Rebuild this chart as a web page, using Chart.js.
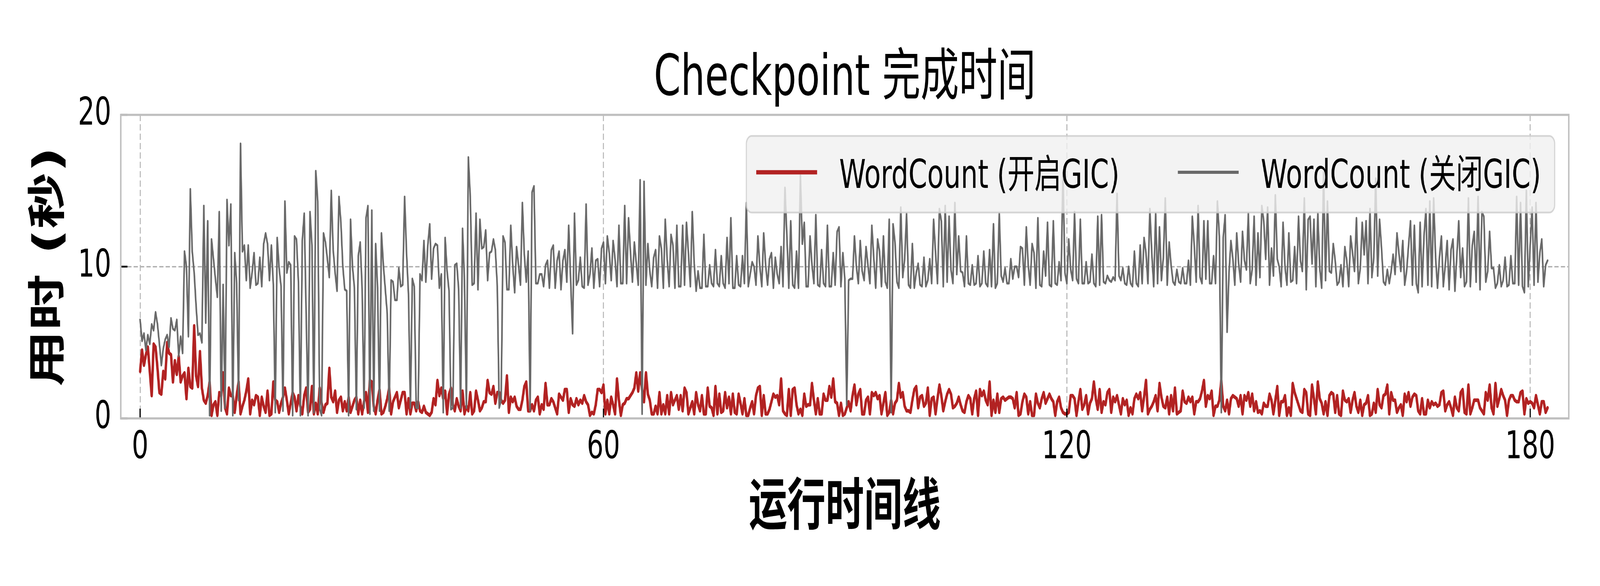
<!DOCTYPE html>
<html>
<head>
<meta charset="utf-8">
<script src="https://cdn.jsdelivr.net/npm/chart.js@4.4.0/dist/chart.umd.min.js"></script>
<style>
html,body{margin:0;padding:0;background:#ffffff;overflow:hidden;}
</style>
</head>
<body>
<canvas id="c" width="6000" height="1500" style="display:block;width:100vw;height:100vh;"></canvas>
<script>
// ---------------- data ----------------
const chartTitle = 'Checkpoint 完成时间';
const xAxisTitle = '运行时间线';
const yAxisTitle = '用时 (秒)';
const seriesNames = ['WordCount (开启GIC)', 'WordCount (关闭GIC)'];
const sampleStep = 0.25;            // time between successive checkpoints on the timeline
const xTickValues = [0, 60, 120, 180];
const yTickValues = [0, 10, 20];

// WordCount with GIC enabled (seconds)
const gicOn = [
3.1,4.5,3.5,4.2,4.7,3.1,1.5,4.9,4.7,3.3,
1.7,1.6,3.1,2.6,5.0,4.3,4.2,2.4,3.8,2.9,
4.1,2.4,2.8,3.0,1.3,3.3,2.1,2.0,6.1,2.8,
2.1,4.4,2.0,1.2,1.0,1.5,2.4,0.2,0.9,1.1,
0.2,1.7,1.5,3.0,0.7,0.3,2.0,1.5,1.5,0.4,
1.5,2.4,0.3,0.8,1.2,1.8,2.6,0.3,1.2,0.9,
1.5,1.4,0.2,1.4,0.8,0.4,1.8,0.2,0.3,2.4,
1.2,1.1,0.4,1.0,1.4,2.0,1.2,0.3,1.0,1.7,
1.4,0.5,1.5,0.8,0.3,1.5,2.0,0.4,0.6,2.1,
0.3,1.0,0.3,2.0,1.0,0.4,0.9,1.0,3.3,1.4,
1.1,1.8,0.4,1.2,1.4,0.5,1.1,0.5,1.4,0.4,
0.8,1.2,1.4,0.3,1.2,0.3,1.1,1.7,0.4,2.5,
2.4,0.8,0.3,1.2,1.9,0.3,0.4,0.8,1.3,2.0,
0.3,1.1,1.4,1.7,0.7,1.2,1.7,1.7,0.3,1.3,
0.3,1.0,1.0,0.5,1.1,0.5,0.4,0.8,0.4,0.3,
0.2,0.4,1.3,0.9,2.5,1.5,2.0,1.3,1.8,0.3,
1.6,2.0,0.9,0.5,1.3,0.8,0.5,1.8,0.3,0.8,
0.5,1.7,0.3,0.5,1.8,1.2,0.5,0.7,1.1,1.1,
2.5,1.7,1.6,2.1,1.0,1.7,1.7,1.2,1.0,1.2,
2.8,0.4,1.4,1.1,1.4,0.8,0.6,0.6,1.2,2.1,
2.4,0.5,0.5,0.9,0.5,1.2,1.4,0.3,0.9,0.6,
2.3,0.9,0.9,1.3,1.1,0.7,0.3,1.6,1.4,1.2,
1.9,1.9,0.4,1.3,0.9,0.8,1.3,0.9,1.2,1.0,
1.5,1.1,0.9,0.2,0.4,0.3,0.9,1.9,1.9,1.7,
2.2,0.3,1.2,0.3,1.4,0.9,0.3,2.6,1.2,0.2,
0.9,1.0,1.3,1.3,1.5,1.7,2.0,3.0,1.8,3.0,
1.9,1.1,3.0,1.6,1.2,0.3,0.3,0.8,0.3,1.7,
0.3,0.9,0.3,1.5,0.3,1.7,0.9,1.2,1.5,0.6,
1.5,0.5,2.0,1.7,0.3,0.7,1.1,0.3,1.7,0.9,
0.5,1.5,0.3,0.3,2.0,0.8,0.7,0.2,2.1,0.3,
1.6,0.4,0.5,1.7,0.7,1.4,0.3,1.6,0.4,0.3,
1.6,1.0,0.3,1.3,0.2,0.2,0.7,1.1,0.3,1.5,
2.0,2.1,0.2,1.5,0.3,0.3,0.6,1.1,1.6,1.4,
1.5,0.9,2.6,0.5,0.3,0.2,1.9,0.2,1.9,2.0,
0.9,0.3,0.6,0.2,1.6,0.8,0.9,0.9,2.3,1.2,
0.3,1.3,0.3,0.3,1.6,1.2,1.2,2.1,1.4,2.6,
1.1,1.0,0.2,1.0,0.2,0.3,0.7,1.1,0.5,1.5,
2.2,0.9,1.6,1.9,0.3,0.3,1.2,1.4,0.3,1.7,
1.5,1.7,1.3,1.5,0.3,1.0,1.7,0.2,0.4,1.2,
0.3,1.0,1.2,2.3,1.4,1.7,0.8,0.5,0.5,0.4,
1.2,1.9,2.1,0.7,1.4,1.5,0.8,1.0,2.0,0.2,
1.3,1.4,0.3,1.3,2.2,1.5,0.5,1.1,1.6,1.9,
1.6,0.7,0.8,1.0,1.4,0.9,0.5,0.4,1.1,1.5,
1.3,0.3,1.3,1.8,0.2,1.9,1.5,1.8,1.2,0.9,
2.4,0.2,1.2,0.4,1.6,0.4,1.3,1.4,1.2,1.3,
1.4,1.4,1.3,0.7,1.7,0.2,0.3,1.1,1.6,1.4,
0.3,1.1,0.2,0.2,1.6,1.0,0.7,1.3,1.7,1.0,
1.3,1.6,1.3,1.1,0.2,1.1,1.4,0.7,0.4,0.3,
0.3,0.4,1.5,1.5,1.3,0.2,1.1,1.9,0.6,0.9,
1.5,0.3,1.0,1.3,2.4,1.3,0.6,1.9,0.4,1.1,
0.9,1.7,1.9,0.4,1.4,1.1,1.5,0.9,0.3,1.3,
0.9,1.2,0.2,0.7,0.3,1.3,1.6,1.3,1.7,0.5,
1.4,2.5,0.3,0.6,0.8,1.1,1.5,0.5,2.3,1.4,
0.8,0.7,1.4,0.3,1.5,0.5,2.0,0.3,0.4,0.5,
1.8,1.1,1.0,1.4,1.1,1.4,0.3,1.1,1.1,1.3,
1.8,2.5,0.8,1.5,1.3,1.8,0.2,0.8,0.8,1.2,
2.5,0.8,0.5,1.2,0.3,1.3,1.5,1.4,1.3,0.8,
1.5,0.3,1.5,1.2,1.7,0.8,1.6,0.5,1.1,0.4,
0.5,0.3,1.0,0.8,0.8,1.6,1.2,0.3,1.2,2.1,
0.2,1.1,1.1,1.5,0.2,0.7,0.2,2.3,1.7,1.3,
0.9,0.5,0.4,1.9,1.7,0.3,0.2,2.2,1.3,0.3,
2.4,1.3,1.0,0.3,1.1,0.2,1.5,1.7,1.6,0.4,
1.5,0.3,0.2,1.8,1.2,1.1,1.3,0.4,1.2,1.7,
0.8,0.4,1.2,0.2,0.9,1.0,1.5,0.2,0.3,1.0,
0.4,1.9,0.9,0.7,1.5,1.6,2.2,0.3,1.7,1.2,
1.2,0.4,0.7,0.9,0.2,1.6,1.1,1.7,0.8,1.4,
1.6,1.5,0.5,0.3,1.3,0.3,0.3,1.2,0.7,1.1,
0.9,1.0,0.8,0.9,1.7,1.8,0.5,0.9,1.1,0.7,
0.2,1.4,0.7,0.5,1.7,1.9,0.4,0.3,2.2,0.3,
0.7,1.2,1.2,1.2,0.7,0.5,0.3,1.7,1.2,2.2,
0.7,0.3,2.3,0.8,1.3,1.9,1.5,1.2,0.2,1.2,
1.5,1.5,1.2,1.1,1.1,1.7,1.8,0.3,1.3,1.0,
1.1,1.0,0.7,1.5,0.9,0.3,1.1,1.1,0.4,0.7
];

// WordCount with GIC disabled (seconds)
const gicOff = [
6.5,5.1,5.6,4.5,5.5,4.9,6.2,5.8,7.0,6.2,
4.9,3.5,4.6,5.2,5.5,4.7,6.6,5.9,5.8,6.5,
4.1,5.4,4.3,11.0,10.0,5.4,15.1,11.0,9.6,7.4,
5.5,5.6,5.0,14.0,6.3,13.0,0.2,11.8,10.5,9.2,
8.0,13.6,0.5,8.8,0.7,14.4,11.4,14.1,0.2,10.9,
8.9,1.2,18.1,11.0,11.4,9.1,11.4,8.6,9.6,10.9,
8.8,8.9,10.6,8.7,11.5,12.2,11.5,9.1,11.4,8.8,
0.4,11.9,9.9,8.7,0.5,14.3,9.6,10.3,10.1,0.2,
12.0,11.8,9.0,0.2,11.7,13.5,6.9,0.2,13.6,11.4,
0.4,16.3,14.3,0.6,0.2,12.2,11.6,10.5,9.3,15.0,
11.1,9.6,8.4,14.6,12.9,10.0,8.5,8.4,0.2,13.1,
10.0,8.6,0.6,10.7,11.6,8.5,0.7,13.2,14.0,0.3,
13.7,0.5,11.5,8.6,0.5,12.2,10.1,8.5,6.9,0.5,
9.1,9.0,7.8,7.8,9.9,8.7,8.8,14.6,10.9,8.2,
0.7,9.2,8.7,0.7,0.7,9.5,9.1,11.7,9.0,11.4,
12.8,9.2,11.2,11.5,11.4,8.6,9.5,0.4,11.9,9.7,
8.4,0.6,0.7,10.1,10.2,8.5,0.7,12.5,9.1,0.7,
17.2,14.6,8.8,8.9,13.5,8.5,13.1,11.2,11.3,12.4,
9.1,10.9,11.0,11.8,11.1,8.7,0.7,1.2,12.0,11.6,
8.5,8.5,12.7,10.1,8.3,11.3,10.1,8.8,14.2,10.8,
9.0,11.0,0.5,14.9,15.3,8.9,8.9,9.5,9.5,8.7,
10.1,10.4,8.6,11.1,11.4,8.6,10.4,11.0,8.5,10.4,
11.1,9.0,12.7,9.1,5.6,13.5,8.8,9.1,10.6,8.7,
8.6,14.1,8.8,9.5,11.2,8.6,10.4,10.5,8.7,11.2,
11.6,8.9,12.0,10.9,9.1,11.7,10.5,8.7,12.7,8.9,
8.9,14.0,8.9,13.2,10.9,9.0,11.6,10.2,8.8,15.7,
0.3,15.6,8.8,11.5,9.7,8.7,10.6,11.1,8.6,12.0,
11.2,8.6,13.1,10.5,8.7,12.1,11.4,8.6,12.7,8.7,
8.7,12.7,8.8,12.9,10.9,8.7,13.6,10.2,8.4,9.7,
8.6,8.6,12.1,8.7,8.7,10.1,8.9,8.7,11.1,8.9,
8.7,10.7,8.9,8.6,11.9,8.9,13.2,8.6,8.6,10.7,
8.8,8.7,10.7,8.9,14.2,8.7,9.5,10.3,10.0,8.8,
12.0,10.0,8.7,12.2,10.1,8.8,10.5,10.9,8.6,10.6,
9.5,8.9,11.3,8.7,15.2,12.0,8.6,13.0,8.8,8.6,
11.0,8.6,16.0,11.5,12.9,8.7,8.7,12.0,10.1,8.9,
13.4,8.8,8.7,11.1,8.9,8.7,12.7,8.7,8.7,10.9,
8.8,12.3,12.6,8.7,10.9,9.2,0.9,9.1,9.2,9.2,
12.0,10.0,8.9,11.7,9.7,9.1,11.3,10.1,8.9,12.7,
10.6,8.6,11.8,11.0,8.7,12.0,9.0,8.6,13.1,0.4,
12.8,11.6,9.0,8.6,13.9,9.3,10.5,13.5,8.8,8.6,
11.5,8.6,9.6,10.2,8.8,8.7,10.6,8.7,9.1,10.5,
8.9,13.1,10.9,8.9,13.8,13.0,8.7,14.0,9.0,13.3,
9.8,8.9,14.2,9.5,12.0,9.7,9.6,8.7,12.0,8.9,
8.8,10.1,8.8,8.9,10.7,8.7,8.9,11.0,8.9,8.7,
11.1,8.7,12.8,8.6,8.9,13.5,9.4,9.0,9.9,8.9,
8.9,10.5,9.2,10.0,10.0,9.3,11.3,11.2,8.8,12.6,
10.1,8.8,11.5,10.9,8.6,13.2,8.8,8.7,11.0,9.4,
12.9,8.8,8.7,13.0,8.9,8.8,10.3,9.1,16.2,9.6,
8.9,11.8,9.8,9.1,13.6,9.2,8.9,13.1,8.9,8.9,
10.3,8.9,9.0,10.8,8.9,8.7,13.3,8.8,13.4,9.0,
8.9,9.4,9.1,9.0,9.3,9.1,14.8,9.4,9.1,9.9,
8.9,8.8,10.0,8.9,8.7,11.0,8.9,8.7,11.4,8.9,
11.9,10.9,8.9,13.8,10.9,8.7,13.5,8.9,12.6,9.1,
10.6,14.5,8.8,11.6,10.1,9.0,8.8,9.8,9.0,8.9,
9.9,8.9,8.9,10.4,8.8,13.3,11.4,9.0,14.0,9.3,
8.9,13.0,9.2,13.0,8.9,8.9,10.7,8.9,14.3,12.0,
0.4,11.9,13.4,5.7,9.6,11.7,10.5,8.8,12.2,10.2,
9.0,12.3,10.4,9.8,13.5,8.9,9.8,13.3,8.8,12.2,
9.3,14.0,13.0,10.5,13.9,8.8,11.2,9.4,14.7,10.5,
10.0,8.7,12.9,10.0,8.8,12.2,9.0,9.1,11.3,8.9,
13.3,10.4,9.7,14.5,8.5,13.1,13.3,10.2,13.1,8.7,
13.5,9.9,8.6,16.2,9.1,14.3,9.7,9.6,11.5,10.4,
8.8,9.0,10.1,8.7,11.3,10.4,8.7,12.0,10.9,9.7,
13.2,8.9,9.9,12.9,10.8,13.0,8.9,13.8,9.3,10.6,
15.8,9.4,13.1,11.2,9.0,8.8,9.8,8.9,9.7,10.8,
9.5,12.2,10.9,9.7,11.7,8.8,9.7,11.4,13.0,8.8,
12.7,8.9,8.3,12.9,8.7,12.0,13.8,8.8,14.3,8.7,
14.5,10.6,8.6,10.6,12.0,8.7,10.1,11.7,8.5,11.1,
11.8,8.4,10.7,13.0,9.3,11.2,8.7,9.0,14.5,8.7,
11.4,12.3,9.0,14.6,8.5,13.6,13.3,9.0,9.7,12.3,
9.9,9.9,8.6,8.9,10.1,8.7,9.1,10.6,8.7,8.8,
10.7,8.9,8.9,14.6,8.8,14.2,8.7,8.3,15.0,8.7,
11.4,13.9,8.8,14.2,9.0,10.9,11.8,8.7,10.1,10.4
];

// ---------------- styling ----------------
const FONT = '"DejaVu Sans", "Noto Sans CJK SC", sans-serif';
const COLOR_ON = '#b22222';
const COLOR_OFF = '#696969';
const LW_ON = 9.2;
const LW_OFF = 6.1;

Chart.defaults.font.family = FONT;
Chart.defaults.color = '#000000';

const toPoints = arr => arr.map((v, i) => ({ x: i * sampleStep, y: v }));

const decorPlugin = {
  id: 'decor',
  afterDatasetsDraw(chart) {
    const { ctx, chartArea: a, scales: { x, y } } = chart;
    ctx.save();
    // inward tick marks
    ctx.strokeStyle = '#000000';
    ctx.lineWidth = 4.6;
    ctx.lineCap = 'butt';
    xTickValues.forEach(v => {
      const px = x.getPixelForValue(v);
      ctx.beginPath(); ctx.moveTo(px, a.bottom); ctx.lineTo(px, a.bottom - 25); ctx.stroke();
    });
    yTickValues.forEach(v => {
      const py = y.getPixelForValue(v);
      ctx.beginPath(); ctx.moveTo(a.left, py); ctx.lineTo(a.left + 25, py); ctx.stroke();
    });
    // frame
    ctx.strokeStyle = '#bfbfbf';
    ctx.lineWidth = 5.5;
    ctx.strokeRect(a.left, a.top, a.right - a.left, a.bottom - a.top);

    // title, centred over the plot area
    ctx.fillStyle = '#000000';
    ctx.textAlign = 'center';
    ctx.textBaseline = 'alphabetic';
    ctx.font = '144px ' + FONT;
    ctx.fillText(chartTitle, (a.left + a.right) / 2, a.top - 51);

    // legend (semi-transparent box inside the plot, upper right)
    ctx.font = '101px ' + FONT;
    ctx.textAlign = 'left';
    const w1 = ctx.measureText(seriesNames[0]).width;
    const w2 = ctx.measureText(seriesNames[1]).width;
    const padL = 37, handle = 228, gapHT = 83, gapTT = 219, padR = 51;
    const boxW = padL + handle + gapHT + w1 + gapTT + handle + gapHT + w2 + padR;
    const right = a.right - 53;
    const left = right - boxW;
    const top = a.top + 54;
    const h = 196;
    const r = 20;
    ctx.beginPath();
    ctx.moveTo(left + r, top);
    ctx.lineTo(right - r, top);
    ctx.arcTo(right, top, right, top + r, r);
    ctx.lineTo(right, top + h - r);
    ctx.arcTo(right, top + h, right - r, top + h, r);
    ctx.lineTo(left + r, top + h);
    ctx.arcTo(left, top + h, left, top + h - r, r);
    ctx.lineTo(left, top + r);
    ctx.arcTo(left, top, left + r, top, r);
    ctx.closePath();
    ctx.fillStyle = 'rgba(240,240,240,0.8)';
    ctx.fill();
    ctx.strokeStyle = 'rgba(204,204,204,0.8)';
    ctx.lineWidth = 4.4;
    ctx.stroke();

    const lineY = top + 93;
    const textY = top + 133;
    let cx = left + padL;
    ctx.strokeStyle = COLOR_ON; ctx.lineWidth = 11;
    ctx.beginPath(); ctx.moveTo(cx, lineY); ctx.lineTo(cx + handle, lineY); ctx.stroke();
    cx += handle + gapHT;
    ctx.fillStyle = '#000000';
    ctx.fillText(seriesNames[0], cx, textY);
    cx += w1 + gapTT;
    ctx.strokeStyle = COLOR_OFF; ctx.lineWidth = 8;
    ctx.beginPath(); ctx.moveTo(cx, lineY); ctx.lineTo(cx + handle, lineY); ctx.stroke();
    cx += handle + gapHT;
    ctx.fillText(seriesNames[1], cx, textY);
    ctx.restore();
  }
};

new Chart(document.getElementById('c').getContext('2d'), {
  type: 'line',
  data: {
    datasets: [
      { label: seriesNames[0], data: toPoints(gicOn), borderColor: COLOR_ON, backgroundColor: COLOR_ON,
        borderWidth: LW_ON, pointRadius: 0, tension: 0, order: 2, fill: false,
        borderJoinStyle: 'round', borderCapStyle: 'round' },
      { label: seriesNames[1], data: toPoints(gicOff), borderColor: COLOR_OFF, backgroundColor: COLOR_OFF,
        borderWidth: LW_OFF, pointRadius: 0, tension: 0, order: 1, fill: false,
        borderJoinStyle: 'round', borderCapStyle: 'round' }
    ]
  },
  options: {
    responsive: false,
    animation: false,
    devicePixelRatio: 1,
    events: [],
    layout: { padding: { left: 0, right: 117, top: 294, bottom: 0 } },
    plugins: {
      legend: { display: false },
      tooltip: { enabled: false },
      title: { display: false }
    },
    scales: {
      x: {
        type: 'linear', min: -2.5, max: 185,
        afterBuildTicks: s => { s.ticks = xTickValues.map(v => ({ value: v })); },
        afterFit: s => { s.height = 429; },
        grid: { color: '#b0b0b0', lineWidth: 3.5, drawTicks: false },
        border: { display: false, dash: [16, 8] },
        ticks: { color: '#000000', font: { size: 98 }, padding: 18, maxRotation: 0, autoSkip: false,
                 callback: v => String(v) },
        title: { display: true, text: xAxisTitle, color: '#000000',
                 font: { size: 144, weight: 'bold', lineHeight: 1.2 }, padding: { top: 0, bottom: 107.6 } }
      },
      y: {
        type: 'linear', min: 0, max: 20,
        afterBuildTicks: s => { s.ticks = yTickValues.map(v => ({ value: v })); },
        afterFit: s => { s.width = 453; },
        grid: { color: '#b0b0b0', lineWidth: 3.5, drawTicks: false },
        border: { display: false, dash: [16, 8] },
        ticks: { color: '#000000', font: { size: 98 }, padding: 36, callback: v => String(v) },
        title: { display: true, text: yAxisTitle, color: '#000000',
                 font: { size: 144, weight: 'bold', lineHeight: 1.2 }, padding: { top: 103.6, bottom: 0 } }
      }
    }
  },
  plugins: [decorPlugin]
});
</script>
</body>
</html>
